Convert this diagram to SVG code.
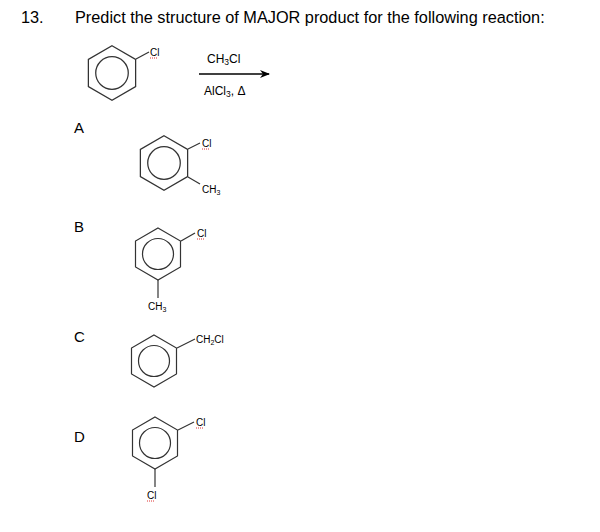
<svg xmlns="http://www.w3.org/2000/svg" width="600" height="532" viewBox="0 0 600 532">
<style>
text{font-family:"Liberation Sans",Arial,sans-serif;fill:#000}
.t{font-size:16.3px}
.s{font-size:10px}
.l{font-size:15px}
.b{fill:none;stroke:#333;stroke-width:1.2}
.u{stroke:#d33;stroke-width:1;stroke-dasharray:1 1}
</style>
<defs>
<g id="ring"><polygon class="b" points="0,-26 22.5,-13 22.5,13 0,26 -22.5,13 -22.5,-13"/><circle class="b" r="15.5"/></g>
<marker id="ah" markerWidth="10" markerHeight="8" refX="9" refY="4" orient="auto" markerUnits="userSpaceOnUse"><path d="M0,0 L10,4 L0,8 L3,4 Z" fill="#000"/></marker>
</defs>
<text class="t" x="21" y="23">13.</text>
<text class="t" x="75" y="23">Predict the structure of MAJOR product for the following reaction:</text>
<g id="reactant">
<use href="#ring" transform="translate(112,73) scale(1.05)"/>
<line class="b" x1="136" y1="59" x2="149" y2="52"/>
<text class="s" x="150" y="56">Cl</text><line class="u" x1="150" y1="58" x2="158" y2="58"/>
</g>
<g id="connectors">
<line x1="199" y1="74" x2="269" y2="74" stroke="#000" stroke-width="1.5" marker-end="url(#ah)"/>
</g>
<text x="207" y="63" style="font-size:12px">CH<tspan font-size="8.5" dy="2">3</tspan><tspan dy="-2">Cl</tspan></text>
<text x="204" y="95" style="font-size:12px">AlCl<tspan font-size="8.5" dy="2">3</tspan><tspan dy="-2">, Δ</tspan></text>
<g id="A">
<text class="l" x="74" y="133">A</text>
<use href="#ring" transform="translate(164,163) scale(1.05)"/>
<line class="b" x1="188" y1="149" x2="200" y2="143"/>
<line class="b" x1="188" y1="177" x2="200" y2="184"/>
<text class="s" x="202" y="147">Cl</text><line class="u" x1="202" y1="149" x2="210" y2="149"/>
<text class="s" x="202" y="193">CH<tspan font-size="7" dy="2">3</tspan></text>
</g>
<g id="B">
<text class="l" x="74" y="232">B</text>
<use href="#ring" transform="translate(158,254)"/>
<line class="b" x1="181" y1="241" x2="195" y2="233"/>
<line class="b" x1="158" y1="280" x2="158" y2="298"/>
<text class="s" x="197" y="237">Cl</text><line class="u" x1="197" y1="239" x2="205" y2="239"/>
<text class="s" x="148" y="310">CH<tspan font-size="7" dy="2">3</tspan></text>
</g>
<g id="C">
<text class="l" x="74" y="342">C</text>
<use href="#ring" transform="translate(154,361)"/>
<line class="b" x1="177" y1="348" x2="195" y2="339"/>
<text class="s" x="196" y="343">CH<tspan font-size="7" dy="2">2</tspan><tspan dy="-2">Cl</tspan></text>
</g>
<g id="D">
<text class="l" x="74" y="442">D</text>
<use href="#ring" transform="translate(155,443)"/>
<line class="b" x1="178" y1="430" x2="194" y2="422"/>
<line class="b" x1="155" y1="469" x2="155" y2="487"/>
<text class="s" x="196" y="426">Cl</text><line class="u" x1="196" y1="428" x2="204" y2="428"/>
<text class="s" x="147" y="499">Cl</text><line class="u" x1="147" y1="501" x2="155" y2="501"/>
</g>
</svg>
